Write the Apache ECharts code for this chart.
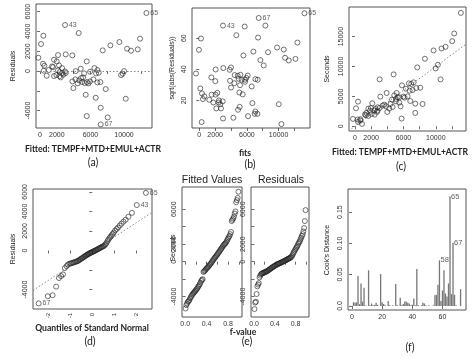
<!DOCTYPE html>
<html><head><meta charset="utf-8">
<script src="https://cdn.jsdelivr.net/npm/echarts@6/dist/echarts.min.js"></script>
<style>html,body{margin:0;padding:0;background:#fff}#c{width:474px;height:358px}</style>
</head><body><div id="c"></div>
<script>
// ---------- (a) Residuals vs fitted ----------
const aFitted = [12665, 2978, 4606, 398, 120, 11910, 9449, 8377, 10362, 10839,
  11633, 7464, -198, 2144, 3058, 3852, 1668, 1986, 5559, 358,
  517, 1430, 2263, 2621, 2978, 1033, 437, 2144, 794, 1668,
  1946, 2343, 2462, 2780, 3058, 2661, 4249, 4844, 5241, 5956,
  6472, 6829, 6988, 6671, 10005, 9846, 9647, 3852, 4209, 4646,
  4884, 5122, 5003, 4487, 5320, 5598, 5757, 5956, 6353, 6829,
  7186, 3971, 7821, 5439, 6631, 10203, 7226, 5559, 8060, 7226,
  2343, 1549];
const aResid = [5857, 4644, 3835, 3565, 2723, 3262, 2925, 2588, 2251, 2049,
  2184, 2083, 1341, 1611, 1678, 1577, 1139, 970, 970, 735,
  532, 465, 566, 296, -40, 94, 27, 61, -479, -512,
  -411, -512, -647, -377, -209, -209, -7, 229, -243, -74,
  296, 94, -175, -243, -7, -277, -411, -1051, -849, -950,
  -714, -647, -1119, -1254, -1220, -1119, -1254, -1051, -849, -1153,
  -1119, -1725, -1826, -2400, -2703, -2804, -3714, -4557, -4691, -5399,
  -108, 398];
const aLabelPos = [0, 1, 69];
const aLabelText = ['65', '43', '67'];

// ---------- (b) sqrt(abs(Residuals)) vs fits ----------
const bFits = [13262, 2989, 5726, 7494, 8336, 4673, 7410, 211, -42, 12377,
  9809, 10651, 6820, 8673, 5557, 10819, 11282, 12125, 7704, 8125,
  -421, 2063, 3031, 4000, 3831, 1516, 2021, 3873, 4463, 4842,
  5178, 6105, 4968, 5347, 5768, 5936, 7073, 7368, 4421, 5136,
  5768, 4000, 6610, 126, 5052, 5473, 337, 632, 463, 1558,
  2063, 2273, 1263, 1768, 2484, 2652, 2947, 2147, 2737, 6694,
  10020, 5094, 4884, 7073, 7326, 6989, 6147, 4294, 2989, 295,
  10357, 2442];
const bSqrtAbs = [76.0, 68.1, 67.5, 73.0, 68.1, 61.9, 60.4, 59.8, 52.5, 57.2,
  54.0, 52.7, 51.4, 51.0, 48.9, 47.4, 45.7, 46.7, 45.9, 42.5,
  37.3, 39.9, 40.8, 41.2, 39.7, 34.8, 32.4, 32.6, 36.3, 35.8,
  36.5, 36.0, 33.9, 33.3, 33.3, 34.5, 33.7, 33.3, 31.1, 29.8,
  32.0, 28.3, 29.0, 27.7, 25.1, 23.9, 24.5, 22.6, 20.9, 23.7,
  23.7, 24.9, 20.4, 18.7, 20.0, 17.6, 19.4, 14.9, 14.9, 18.3,
  17.6, 15.9, 14.0, 12.9, 11.4, 11.4, 9.9, 8.9, 8.4, 6.1,
  4.8, 18.7];
const bLabelPos = [0, 1, 3];
const bLabelText = ['65', '43', '67'];

// ---------- (c) Seconds vs fitted ----------
const cFitted = [13102, 12278, 12030, 11206, 10712, 9723, 8652, 10259, 9970, 7704,
  10588, 4779, 3049, 7251, 6963, 6674, 5809, 6304, 6757, 7128,
  7581, 8075, 3914, 5150, 4862, 5974, 6139, 5274, 5068, 4573,
  3131, 371, 2142, 6839, 5480, 7457, 8363, 4408, 3832, 2802,
  3049, 1978, 1648, 4244, 5645, 124, 1854, 2390, 2719, 1401,
  3996, 2060, 2431, 1648, 7457, -247, 330, 659, 371, 865,
  5768, 3420, 1360, 2802, 4656, 5480, 659, 3626, 2513, 1236,
  5068, 6510];
const cSeconds = [18960, 15512, 14234, 13288, 13010, 12677, 11287, 10286, 9674, 9841,
  7840, 8674, 7840, 7339, 7061, 7172, 6839, 6283, 5949, 6060,
  6394, 6450, 5560, 5560, 5171, 4948, 4782, 4837, 4559, 4448,
  4948, 4114, 3836, 4226, 3948, 3781, 3725, 3725, 3336, 3169,
  3058, 3058, 2947, 2947, 3336, 3002, 2613, 2613, 2391, 2224,
  2391, 2057, 1946, 1724, 2224, 1223, 1112, 1168, 723, 389,
  1279, 3447, 1835, 2613, 3225, 4837, 945, 3614, 2891, 1946,
  4170, 5004];
const cRefLine = [[-800, -800], [14000, 14000]];

// ---------- (d) Normal QQ of residuals ----------
const qqTheoretical = [-2.46, -2.04, -1.82, -1.66, -1.53, -1.43, -1.34, -1.26, -1.18, -1.12,
  -1.05, -0.99, -0.94, -0.89, -0.84, -0.79, -0.74, -0.70, -0.65, -0.61,
  -0.57, -0.53, -0.49, -0.45, -0.41, -0.37, -0.34, -0.30, -0.26, -0.23,
  -0.19, -0.16, -0.12, -0.09, -0.05, -0.02, 0.02, 0.05, 0.09, 0.12,
  0.16, 0.19, 0.23, 0.26, 0.30, 0.34, 0.37, 0.41, 0.45, 0.49,
  0.53, 0.57, 0.61, 0.65, 0.70, 0.74, 0.79, 0.84, 0.89, 0.94,
  0.99, 1.05, 1.12, 1.18, 1.26, 1.34, 1.43, 1.53, 1.66, 1.82,
  2.04, 2.46];
const sortedResid = [-5420, -4680, -4580, -3700, -2820, -2620, -2450, -1800, -1600, -1450,
  -1360, -1330, -1300, -1250, -1220, -1180, -1140, -1110, -1060, -1000,
  -940, -880, -820, -760, -700, -640, -590, -530, -480, -430,
  -380, -330, -290, -250, -210, -180, -140, -100, -60, -20,
  20, 60, 100, 140, 190, 240, 280, 330, 380, 420,
  460, 540, 640, 780, 960, 1120, 1280, 1420, 1560, 1700,
  1850, 2050, 2200, 2350, 2550, 2750, 2950, 3150, 3450, 3850,
  4650, 5900];
const dLabelPos = [0, 70, 71];
const dLabelText = ['67', '43', '65'];
const qqLine = [[-2.72, -4090], [2.74, 3900]];

// ---------- (e) residual-fit spread ----------
const sortedFitCentered = [-5350, -4970, -4780, -4600, -4520, -4400, -4200, -4060, -3900, -3780,
  -3650, -3560, -3450, -3350, -3250, -3120, -3000, -2850, -2740, -2580,
  -2400, -2200, -2080, -2000, -1180, -1100, -1000, -900, -790, -700,
  -620, -520, -400, -300, -200, -80, 60, 180, 300, 420,
  520, 640, 760, 880, 1000, 1120, 1250, 1380, 1500, 1620,
  1760, 1880, 1980, 2060, 2150, 2300, 2480, 2650, 2800, 2950,
  3150, 3400, 4650, 4800, 4950, 5150, 5500, 5750, 6800, 7050,
  7300, 8000];
const fTicks = [0, 0.2, 0.4, 0.6, 0.8, 1.0];
const fLabels = [0, 0.4, 0.8];

// ---------- (f) Cook's distance ----------
const cooksD = [0.006, 0.005, 0.006, 0.048, 0.003, 0.036, 0.007, 0.029, 0.001, 0.000,
  0.057, 0.001, 0.004, 0.001, 0.002, 0.005, 0.002, 0.000, 0.051, 0.006,
  0.003, 0.001, 0.000, 0.008, 0.001, 0.000, 0.001, 0.000, 0.035, 0.001,
  0.000, 0.013, 0.001, 0.003, 0.007, 0.007, 0.005, 0.004, 0.001, 0.002,
  0.012, 0.001, 0.059, 0.001, 0.000, 0.001, 0.005, 0.004, 0.001, 0.000,
  0.001, 0.000, 0.000, 0.001, 0.017, 0.018, 0.034, 0.073, 0.008, 0.025,
  0.057, 0.020, 0.015, 0.036, 0.175, 0.019, 0.101, 0.018, 0.001, 0.000,
  0.000, 0.027];
const cookLabelObs = [58, 65, 67];

// ---------- build ----------
const FONT = 'Liberation Sans, Arial, sans-serif';
const AX = '#444';
const plain = v => String(Math.round(v * 1e6) / 1e6);
function steps(a, b, s) { const r = []; for (let v = a; v <= b + 1e-9; v += s) r.push(+v.toFixed(6)); return r; }

function xAx(g, min, max, ticks, labels, fmt) {
  return {
    type: 'value', gridIndex: g, min, max,
    axisLine: { show: false }, splitLine: { show: false },
    axisTick: { show: true, inside: false, length: 3, customValues: ticks, lineStyle: { color: AX, width: 0.8 } },
    axisLabel: { customValues: labels, formatter: fmt || plain, fontSize: 7, color: '#333', margin: 4, fontFamily: FONT, hideOverlap: false }
  };
}
function yAx(g, min, max, ticks, labels, fmt) {
  return {
    type: 'value', gridIndex: g, min, max,
    axisLine: { show: false }, splitLine: { show: false },
    axisTick: { show: true, inside: false, length: 3, customValues: ticks, lineStyle: { color: AX, width: 0.8 } },
    axisLabel: { customValues: labels, formatter: fmt || plain, fontSize: 7, color: '#333', margin: 4, rotate: 90, fontFamily: FONT, hideOverlap: false }
  };
}
function pts(xs, ys, pos, txt) {
  return xs.map((x, i) => {
    const d = { value: [x, ys[i]] };
    const k = pos.indexOf(i);
    if (k >= 0) d.label = { show: true, formatter: txt[k], position: 'right', distance: 1, fontSize: 7, color: '#333', fontFamily: FONT };
    return d;
  });
}
function scat(xi, data) {
  return {
    type: 'scatter', xAxisIndex: xi, yAxisIndex: xi, data, symbol: 'circle', symbolSize: 5,
    itemStyle: { color: 'rgba(0,0,0,0)', borderColor: '#222', borderWidth: 0.8 },
    emphasis: { disabled: true }, silent: true, z: 3
  };
}
const dotted = { type: [1.5, 2], color: '#888', width: 1 };
function refLine(xi, data) {
  return { type: 'line', xAxisIndex: xi, yAxisIndex: xi, data, symbol: 'none', lineStyle: dotted, silent: true, z: 2 };
}

const grids = [
  { left: 36, top: 4, width: 116, height: 124 },
  { left: 192, top: 8, width: 118, height: 120 },
  { left: 349, top: 7, width: 117, height: 124 },
  { left: 33, top: 189, width: 119, height: 120 },
  { left: 182, top: 187, width: 60, height: 130 },
  { left: 251, top: 187, width: 58, height: 130 },
  { left: 348, top: 189, width: 118, height: 121 }
].map(g => Object.assign(g, { show: true, borderColor: '#555', borderWidth: 1, containLabel: false }));

const n = sortedResid.length;
const eMin = -0.06 * n - 0.5, eMax = 1.06 * n - 0.5;
const toIdx = f => f * n - 0.5;
const fFmt = v => ((v + 0.5) / n).toFixed(1);

const fitTicks = steps(0, 12000, 2000), fitLabels = [0, 2000, 6000, 10000];
const xAxes = [
  xAx(0, -480, 13330, fitTicks, fitLabels),
  xAx(1, -920, 13960, fitTicks, fitLabels),
  xAx(2, -742, 13737, fitTicks, fitLabels),
  xAx(3, -2.72, 2.74, [-2, -1, 0, 1, 2], [-2, -1, 0, 1, 2]),
  xAx(4, eMin, eMax, fTicks.map(toIdx), fLabels.map(toIdx), fFmt),
  xAx(5, eMin, eMax, fTicks.map(toIdx), fLabels.map(toIdx), fFmt),
  xAx(6, -2.64, 75.6, [0, 20, 40, 60], [0, 20, 40, 60])
];
xAxes[3].axisLabel.rotate = 90; xAxes[3].axisLabel.fontSize = 6;

const resTicks = steps(-4000, 6000, 2000), resLabels = [-4000, 0, 2000, 4000, 6000];
const yAxes = [
  yAx(0, -5758, 6768, resTicks, resLabels),
  yAx(1, 2.3, 79.4, [20, 40, 60], [20, 40, 60]),
  yAx(2, -800, 19950, [0, 5000, 10000, 15000], [0, 5000, 10000, 15000]),
  yAx(3, -5990, 6293, resTicks, resLabels),
  yAx(4, -6327, 8547, resTicks, [-4000, 0, 2000, 6000]),
  yAx(5, -6327, 8547, resTicks, [-4000, 0, 2000, 6000]),
  yAx(6, -0.0064, 0.187, [0, 0.05, 0.10, 0.15], [0, 0.05, 0.10, 0.15], v => v === 0 ? '0.0' : v.toFixed(2))
];

const aSeries = scat(0, pts(aFitted, aResid, aLabelPos, aLabelText));
aSeries.markLine = { silent: true, symbol: ['none', 'none'], label: { show: false }, lineStyle: dotted, data: [{ yAxis: 0 }] };

const series = [
  aSeries,
  scat(1, pts(bFits, bSqrtAbs, bLabelPos, bLabelText)),
  refLine(2, cRefLine),
  scat(2, pts(cFitted, cSeconds, [], [])),
  refLine(3, qqLine),
  scat(3, pts(qqTheoretical, sortedResid, dLabelPos, dLabelText)),
  scat(4, sortedFitCentered.map((v, i) => [i, v])),
  scat(5, sortedResid.map((v, i) => [i, v])),
  { type: 'bar', xAxisIndex: 6, yAxisIndex: 6, data: cooksD.map((v, i) => [i + 1, v]), barWidth: 1.3,
    itemStyle: { color: '#777' }, silent: true },
  { type: 'scatter', xAxisIndex: 6, yAxisIndex: 6, symbolSize: 0, silent: true,
    data: cookLabelObs.map(k => ({ value: [k, cooksD[k - 1]] })),
    label: { show: true, position: 'right', distance: 1, fontSize: 7.5, color: '#333', fontFamily: FONT,
      formatter: p => String(p.value[0]) } }
];

const BF = 'Lato, sans-serif';
const texts = [
  { t: 'Residuals', x: 13, y: 66, rot: 1, s: 7 },
  { t: 'sqrt(abs(Residuals))', x: 172, y: 68, rot: 1, s: 7 },
  { t: 'Seconds', x: 327, y: 69, rot: 1, s: 7 },
  { t: 'Residuals', x: 13, y: 249, rot: 1, s: 7 },
  { t: 'Seconds', x: 173, y: 248, rot: 1, s: 7 },
  { t: "Cook's Distance", x: 327, y: 250, rot: 1, s: 7 },
  { t: 'Fitted: TEMPF+MTD+EMUL+ACTR', x: 93, y: 149, b: 1, s: 8.6, f: BF },
  { t: 'fits', x: 245, y: 153, b: 1, s: 8.6, f: BF },
  { t: 'Fitted: TEMPF+MTD+EMUL+ACTR', x: 400, y: 152, b: 1, s: 8.6, f: BF },
  { t: 'Quantiles of Standard Normal', x: 92, y: 328, b: 1, s: 8.6, f: BF },
  { t: 'f-value', x: 243, y: 332, b: 1, s: 8.6, f: BF },
  { t: '(a)', x: 93, y: 163, s: 10.5, f: BF },
  { t: '(b)', x: 250, y: 165, s: 10.5, f: BF },
  { t: '(c)', x: 401, y: 167, s: 10.5, f: BF },
  { t: '(d)', x: 90, y: 342, s: 10.5, f: BF },
  { t: '(e)', x: 247, y: 342, s: 10.5, f: BF },
  { t: '(f)', x: 410, y: 348, s: 10.5, f: BF },
  { t: 'Fitted Values', x: 212, y: 180, s: 10.5 },
  { t: 'Residuals', x: 281, y: 180, s: 10.5 }
];
const graphic = texts.map(o => ({
  type: 'text', x: o.x, y: o.y, rotation: o.rot ? Math.PI / 2 : 0, silent: true,
  style: { text: o.t, align: 'center', verticalAlign: 'middle', fontSize: o.s,
    fontWeight: o.b ? 'bold' : 'normal', fontFamily: o.f || FONT, fill: '#222' }
}));

const chart = echarts.init(document.getElementById('c'));
chart.setOption({
  animation: false, backgroundColor: '#fff',
  grid: grids, xAxis: xAxes, yAxis: yAxes, series, graphic
});
</script></body></html>
